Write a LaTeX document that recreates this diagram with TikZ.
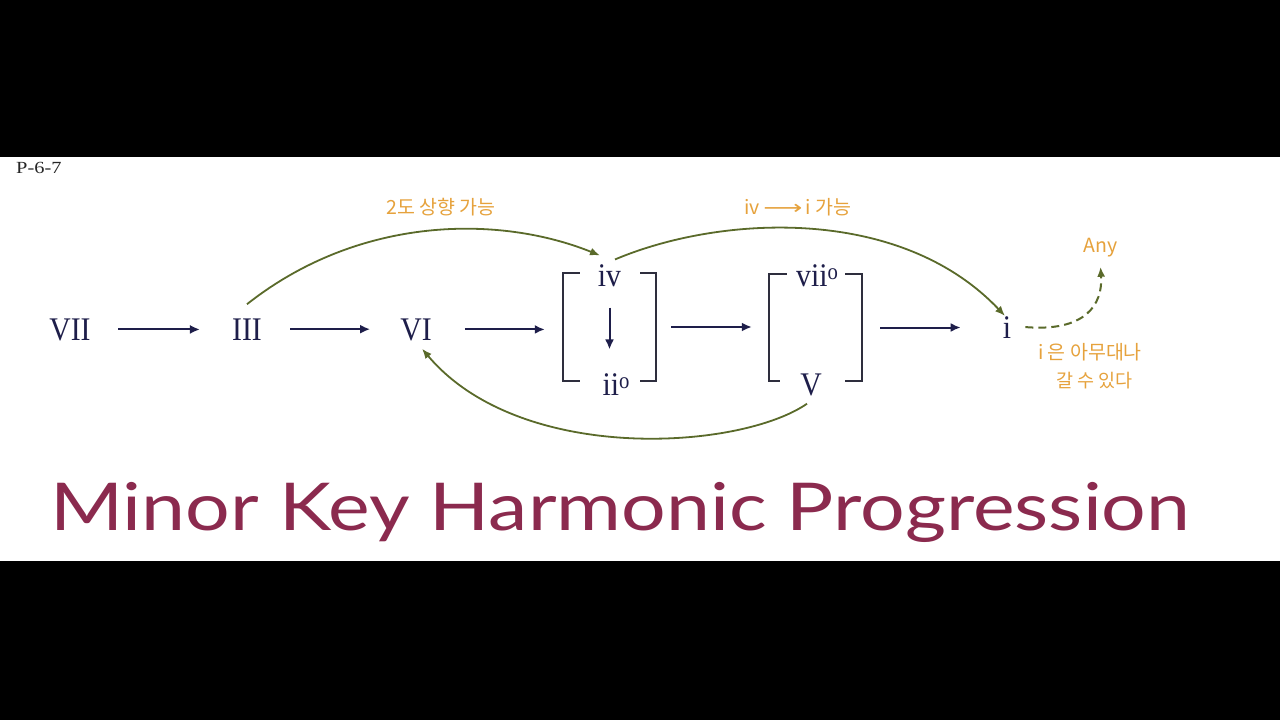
\documentclass[tikz,border=0pt]{standalone}
\usepackage{fontspec}
\setmainfont{Liberation Serif}
\newfontfamily\krfont{Noto Sans CJK KR}
\newfontfamily\titlefont{Lato}
\newfontfamily\symfont{DejaVu Sans}
\usetikzlibrary{arrows.meta}
\definecolor{navy}{HTML}{1E1E4A}
\definecolor{olivegreen}{HTML}{5A6A2A}
\definecolor{amber}{HTML}{E6A23C}
\definecolor{plum}{HTML}{8B2A4E}
\definecolor{brk}{HTML}{2E2E3E}
\newcommand\chordtext[1]{\scalebox{0.9}[1]{\fontsize{33}{33}\selectfont #1}}
\newcommand\dimo{\raisebox{7pt}{\fontsize{23}{23}\selectfont o}}
\begin{document}
\begin{tikzpicture}[x=1pt,y=-1pt,
  chord/.style={inner sep=0pt,anchor=base,text=navy},
  boxnode/.style={inner sep=0pt,minimum width=93pt,minimum height=108pt},
  bracket/.style={draw=brk,line width=2pt},
  arr/.style={draw=navy,line width=2pt,-{Latex[length=10pt,width=9pt]}},
  garr/.style={draw=olivegreen,line width=1.8pt,-{Latex[length=10pt,width=8pt]}},
  lab/.style={inner sep=0pt,text=amber,font=\krfont\fontsize{19.5}{19.5}\selectfont}]
\useasboundingbox (0,0) rectangle (1280,720);
\fill[black] (0,0) rectangle (1280,720);
\fill[white] (0,157) rectangle (1280,561);

\node[anchor=base west,inner sep=0pt,text=black!85] (code) at (16,173)
  {\scalebox{1.2}[1]{\fontsize{17}{17}\selectfont P-6-7}};

% chords
\node[chord] (VII) at (70,340) {\chordtext{VII}};
\node[chord] (III) at (247,340) {\chordtext{III}};
\node[chord] (VI) at (416,340) {\chordtext{VI}};
\node[chord] (iv) at (609.5,286) {\chordtext{iv}};
\node[chord] (ii) at (616,395) {\chordtext{ii\dimo}};
\node[chord] (vii) at (817,286) {\chordtext{vii\dimo}};
\node[chord] (V) at (811,395) {\chordtext{V}};
\node[chord] (i) at (1007,338) {\chordtext{i}};

% bracket boxes
\node[boxnode] (b1) at (609.5,327) {};
\node[boxnode,minimum height=107pt] (b2) at (815.5,327.5) {};
\draw[bracket] ([xshift=17pt]b1.north west) -- (b1.north west) -- (b1.south west) -- ([xshift=17pt]b1.south west);
\draw[bracket] ([xshift=-16pt]b1.north east) -- (b1.north east) -- (b1.south east) -- ([xshift=-16pt]b1.south east);
\draw[bracket] ([xshift=18pt]b2.north west) -- (b2.north west) -- (b2.south west) -- ([xshift=11pt]b2.south west);
\draw[bracket] ([xshift=-17pt]b2.north east) -- (b2.north east) -- (b2.south east) -- ([xshift=-17pt]b2.south east);

% horizontal arrows
\draw[arr,shorten <=27.5pt,shorten >=32pt] (VII.east) -- (VII.east -| III.west);
\draw[arr,shorten <=28pt,shorten >=30pt] (III.east) -- (III.east -| VI.west);
\draw[arr,shorten <=33pt,shorten >=18pt] (VI.east) -- (VI.east -| b1.west);
\draw[arr,shorten <=15pt,shorten >=17pt] (b1.east) -- (b1.east -| b2.west);
\draw[arr,shorten <=18pt,shorten >=42pt] (b2.east) -- (b2.east -| i.west);
\draw[arr,shorten <=21pt,shorten >=23.5pt] (iv.south) -- (iv.south |- ii.north);

% green curves
\draw[garr] ([yshift=14pt]III.north) .. controls (360,215) and (500,215) .. ([xshift=-9.5pt,yshift=8.5pt]iv.north);
\draw[garr] ([xshift=5.5pt,yshift=4.5pt]iv.north) .. controls (720,215) and (900,205) .. ([xshift=-2pt]i.north);
\draw[garr] ([xshift=-4pt,yshift=-8pt]V.south) .. controls (740,450) and (520,465) .. ([xshift=6pt,yshift=-8pt]VI.south);

% labels
\node[lab] (l1) at (441,207) {2도 상향 가능};
\node[lab] (l2) at (798,207) {iv\,{\symfont\scalebox{1.4}[1]{⟶}}\,i 가능};
\node[lab,anchor=base] (any) at (1100.5,252) {Any};
\node[lab] (l3) at (1090,352) {i 은 아무대나};
\node[lab,font=\krfont\fontsize{18.5}{18.5}\selectfont] (l4) at (1094.5,381) {갈 수 있다};

\draw[draw=olivegreen,line width=2pt,dash pattern=on 8pt off 5pt,-{Latex[length=10pt,width=8pt]}]
  ([xshift=14pt]i.east) .. controls (1085,332) and (1103,305) .. ([yshift=-10pt]any.south);

% title
\node[anchor=base west,inner sep=0pt,text=plum] (title) at (50,530)
  {\resizebox{1140pt}{\height}{\titlefont\fontsize{66}{66}\selectfont Minor Key Harmonic Progression}};
\end{tikzpicture}
\end{document}
